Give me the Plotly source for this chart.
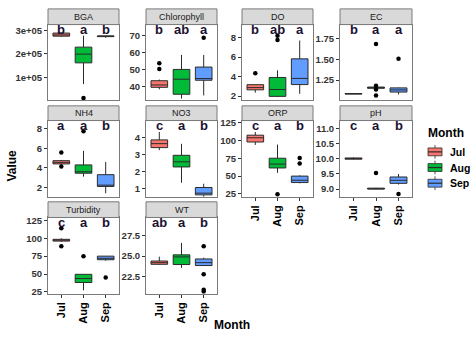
import plotly.graph_objects as go

months = ["Jul", "Aug", "Sep"]
colors = ["#F8766D", "#00BA38", "#619CFF"]
params = ["BGA", "Chlorophyll", "DO", "EC", "NH4", "NO3", "ORP", "pH", "Turbidity", "WT"]

lower_whisker = {
    "BGA": [272000, 72000, 268000],
    "Chlorophyll": [38.2, 32.7, 34.6],
    "DO": [2.35, 1.9, 2.23],
    "EC": [1.078, 1.145, 1.077],
    "NH4": [4.3, 3.1, 1.4],
    "NO3": [3.26, 1.36, 0.55],
    "ORP": [93.6, 54.6, 40.0],
    "pH": [9.98, 8.99, 9.15],
    "Turbidity": [95.0, 27.3, 68.6],
    "WT": [23.95, 23.56, 23.8],
}
q1 = {
    "BGA": [275000, 162000, 273000],
    "Chlorophyll": [39.4, 35.3, 43.6],
    "DO": [2.64, 1.97, 3.18],
    "EC": [1.08, 1.15, 1.104],
    "NH4": [4.4, 3.45, 2.1],
    "NO3": [3.41, 2.28, 0.65],
    "ORP": [97.7, 61.4, 41.0],
    "pH": [9.99, 9.0, 9.19],
    "Turbidity": [96.0, 38.2, 70.0],
    "WT": [24.0, 23.97, 23.85],
}
median = {
    "BGA": [280000, 199000, 275000],
    "Chlorophyll": [40.8, 44.2, 44.6],
    "DO": [2.87, 2.67, 3.81],
    "EC": [1.083, 1.158, 1.13],
    "NH4": [4.56, 3.6, 2.23],
    "NO3": [3.64, 2.58, 0.75],
    "ORP": [103.6, 66.8, 44.2],
    "pH": [10.01, 9.01, 9.29],
    "Turbidity": [97.3, 43.7, 72.0],
    "WT": [24.2, 24.9, 24.2],
}
q3 = {
    "BGA": [288000, 228500, 276000],
    "Chlorophyll": [43.3, 50.0, 51.4],
    "DO": [3.17, 3.91, 5.82],
    "EC": [1.086, 1.165, 1.155],
    "NH4": [4.73, 4.3, 3.3],
    "NO3": [3.86, 2.96, 1.08],
    "ORP": [107.2, 75.0, 50.0],
    "pH": [10.03, 9.03, 9.4],
    "Turbidity": [98.5, 49.6, 75.0],
    "WT": [24.4, 25.15, 24.65],
}
upper_whisker = {
    "BGA": [290000, 277000, 276500],
    "Chlorophyll": [44.0, 58.6, 58.6],
    "DO": [3.2, 4.64, 7.7],
    "EC": [1.088, 1.17, 1.16],
    "NH4": [4.8, 5.73, 4.6],
    "NO3": [4.32, 3.63, 1.3],
    "ORP": [111.7, 94.1, 51.0],
    "pH": [10.05, 9.04, 9.5],
    "Turbidity": [100.0, 50.0, 75.0],
    "WT": [24.93, 26.6, 24.8],
}
outliers = {
    "BGA": [[], [13000], []],
    "Chlorophyll": [[50.2, 53.6], [], [68.8]],
    "DO": [[4.34], [7.76, 8.2], []],
    "EC": [[], [1.69, 1.18, 1.135, 1.063], [1.51]],
    "NH4": [[5.56, 4.13], [7.73], []],
    "NO3": [[], [], []],
    "ORP": [[], [24.6], [67.7, 75.4]],
    "pH": [[], [9.53], [8.84]],
    "Turbidity": [[88.7, 114.0], [75.0], [45.0]],
    "WT": [[], [], [26.2, 22.8, 20.9, 20.7]],
}
letters = {
    "BGA": ["b", "a", "b"],
    "Chlorophyll": ["b", "ab", "a"],
    "DO": ["b", "ab", "a"],
    "EC": ["b", "a", "a"],
    "NH4": ["a", "a", "b"],
    "NO3": ["c", "a", "b"],
    "ORP": ["c", "a", "b"],
    "pH": ["c", "a", "b"],
    "Turbidity": ["c", "a", "b"],
    "WT": ["ab", "a", "b"],
}
y_ticks = {
    "BGA": [100000, 200000, 300000],
    "Chlorophyll": [40, 50, 60, 70],
    "DO": [2, 4, 6, 8],
    "EC": [1.25, 1.5, 1.75],
    "NH4": [2, 4, 6, 8],
    "NO3": [1, 2, 3, 4],
    "ORP": [25, 50, 75, 100, 125],
    "pH": [9.0, 9.5, 10.0, 10.5, 11.0],
    "Turbidity": [25, 50, 75, 100, 125],
    "WT": [22.5, 25.0, 27.5],
}
y_ticktext = {
    "BGA": ["1e+05", "2e+05", "3e+05"],
    "Chlorophyll": ["40", "50", "60", "70"],
    "DO": ["2", "4", "6", "8"],
    "EC": ["1.25", "1.50", "1.75"],
    "NH4": ["2", "4", "6", "8"],
    "NO3": ["1", "2", "3", "4"],
    "ORP": ["25", "50", "75", "100", "125"],
    "pH": ["9.0", "9.5", "10.0", "10.5", "11.0"],
    "Turbidity": ["25", "50", "75", "100", "125"],
    "WT": ["22.5", "25.0", "27.5"],
}
y_range = {
    "BGA": [5000, 324000],
    "Chlorophyll": [31.9, 76.6],
    "DO": [1.6, 9.34],
    "EC": [1.008, 1.925],
    "NH4": [1.03, 8.83],
    "NO3": [0.53, 4.99],
    "ORP": [20.9, 127.7],
    "pH": [8.74, 11.27],
    "Turbidity": [22.3, 129.0],
    "WT": [20.4, 29.7],
}

# ---- layout geometry (pixels) ----
W, H = 474, 338
col_px = [(48, 119), (146, 217), (242, 313), (340, 412)]
row_px = [(5, 21, 98), (104, 119, 197), (202, 218, 296)]
bottom_panels = {"ORP", "pH", "Turbidity", "WT"}

def px(x):
    return x / W

def py(y):
    return 1 - y / H

FONT = "Liberation Sans, Arial, sans-serif"
BORDER = "#7a7a7a"
BOXLINE = "#2b2b2b"

fig = go.Figure()
layout = dict(
    width=W, height=H,
    margin=dict(l=0, r=0, t=0, b=0),
    paper_bgcolor="white", plot_bgcolor="white",
    font=dict(family=FONT),
    showlegend=False,
    boxmode="overlay",
)
shapes = []
annotations = []

for i, p in enumerate(params):
    n = i + 1
    r, c = divmod(i, 4)
    x0, x1 = col_px[c]
    st, pt, pb = row_px[r]
    xa = "x" if n == 1 else f"x{n}"
    ya = "y" if n == 1 else f"y{n}"
    for j, m in enumerate(months):
        fig.add_trace(go.Box(
            x=[m], q1=[q1[p][j]], median=[median[p][j]], q3=[q3[p][j]],
            lowerfence=[lower_whisker[p][j]], upperfence=[upper_whisker[p][j]],
            fillcolor=colors[j], line=dict(color=BOXLINE, width=1),
            whiskerwidth=0, width=0.75, boxpoints=False,
            name=m, legendgroup=m,
            xaxis=xa, yaxis=ya, hoverinfo="skip",
        ))
        if outliers[p][j]:
            fig.add_trace(go.Scatter(
                x=[m] * len(outliers[p][j]), y=outliers[p][j], mode="markers",
                marker=dict(color="black", size=4.5),
                xaxis=xa, yaxis=ya, hoverinfo="skip",
            ))
        annotations.append(dict(
            x=m, y=0.935, xref=xa, yref=f"{ya} domain", text=f"<b>{letters[p][j]}</b>",
            showarrow=False, yanchor="middle", xanchor="center",
            font=dict(size=13, color="#1c1030", family=FONT),
        ))
    show_x = p in bottom_panels
    layout[f"xaxis{n}"] = dict(
        domain=[px(x0), px(x1)], anchor=ya, type="category",
        categoryorder="array", categoryarray=months, range=[-0.6, 2.6],
        showline=True, mirror=True, linecolor=BORDER, linewidth=1,
        showgrid=False, zeroline=False,
        ticks="outside" if show_x else "", ticklen=3, tickcolor="#333333",
        showticklabels=show_x, tickangle=-90,
        tickfont=dict(size=11, color="black", family=FONT, weight="bold"),
    )
    layout[f"yaxis{n}"] = dict(
        domain=[py(pb), py(pt)], anchor=xa, range=y_range[p],
        tickvals=y_ticks[p], ticktext=y_ticktext[p],
        showline=True, mirror=True, linecolor=BORDER, linewidth=1,
        showgrid=False, zeroline=False,
        ticks="outside", ticklen=3, tickcolor="#333333",
        tickfont=dict(size=9.5, color="#333333", family=FONT, weight="bold"),
    )
    shapes.append(dict(
        type="rect", xref="paper", yref="paper",
        x0=px(x0), x1=px(x1), y0=py(pt), y1=py(st),
        fillcolor="#D9D9D9", line=dict(color=BORDER, width=1), layer="above",
    ))
    annotations.append(dict(
        x=px((x0 + x1) / 2), y=py((st + pt) / 2), xref="paper", yref="paper",
        text=p, showarrow=False, xanchor="center", yanchor="middle",
        font=dict(size=9, color="#1a1a1a", family=FONT),
    ))

annotations.append(dict(
    x=px(12), y=py(165), xref="paper", yref="paper", text="<b>Value</b>",
    textangle=-90, showarrow=False, xanchor="center", yanchor="middle",
    font=dict(size=12, color="black", family=FONT),
))
annotations.append(dict(
    x=px(232), y=py(328), xref="paper", yref="paper", text="<b>Month</b>",
    showarrow=False, xanchor="center", yanchor="middle",
    font=dict(size=12, color="black", family=FONT),
))

# ---- legend (ggplot-style keys) ----
annotations.append(dict(
    x=px(426), y=py(132), xref="paper", yref="paper", text="<b>Month</b>",
    showarrow=False, xanchor="left", yanchor="middle",
    font=dict(size=12, color="black", family=FONT),
))
key_x0, key_x1 = 428, 442
for j, m in enumerate(months):
    cy = 151 + 16 * j
    shapes.append(dict(type="rect", xref="paper", yref="paper",
                       x0=px(key_x0), x1=px(key_x1), y0=py(cy + 4), y1=py(cy - 4),
                       fillcolor=colors[j], line=dict(color=BOXLINE, width=0.8)))
    shapes.append(dict(type="line", xref="paper", yref="paper",
                       x0=px(key_x0), x1=px(key_x1), y0=py(cy), y1=py(cy),
                       line=dict(color=BOXLINE, width=1.2)))
    cx = (key_x0 + key_x1) / 2
    shapes.append(dict(type="line", xref="paper", yref="paper",
                       x0=px(cx), x1=px(cx), y0=py(cy - 4), y1=py(cy - 7),
                       line=dict(color=BOXLINE, width=0.8)))
    shapes.append(dict(type="line", xref="paper", yref="paper",
                       x0=px(cx), x1=px(cx), y0=py(cy + 4), y1=py(cy + 7),
                       line=dict(color=BOXLINE, width=0.8)))
    annotations.append(dict(
        x=px(448), y=py(cy), xref="paper", yref="paper", text=f"<b>{m}</b>",
        showarrow=False, xanchor="left", yanchor="middle",
        font=dict(size=10.5, color="black", family=FONT),
    ))

layout["shapes"] = shapes
layout["annotations"] = annotations
fig.update_layout(**layout)
fig.write_html("out.html")
